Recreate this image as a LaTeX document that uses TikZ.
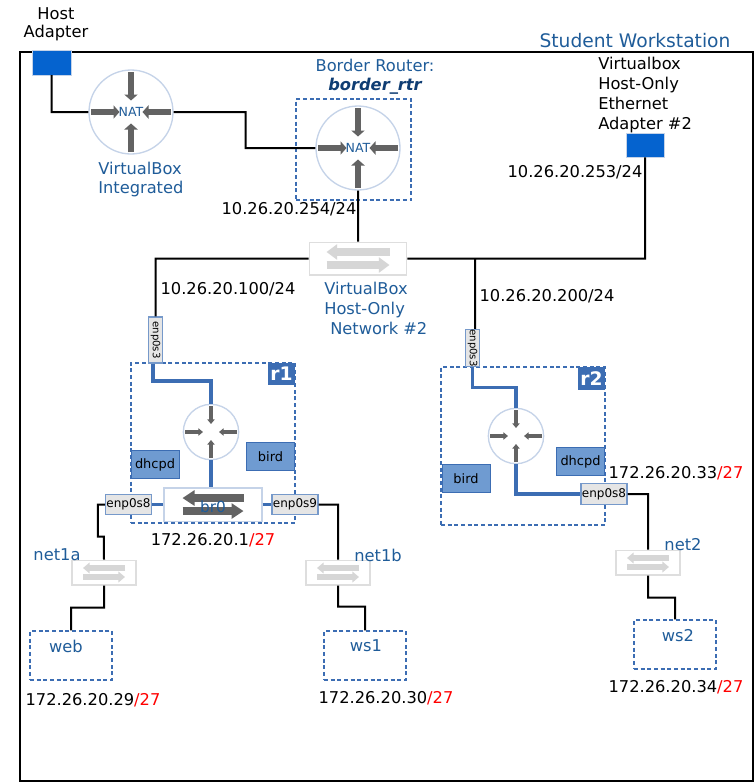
\documentclass[tikz,border=0pt]{standalone}
\usepackage{fontspec}
\setmainfont{DejaVu Sans}
\usetikzlibrary{arrows.meta,calc}

\definecolor{wsblue}{HTML}{1F5C99}
\definecolor{rtrblue}{HTML}{0F3D73}
\definecolor{dashblue}{HTML}{3C6DB3}
\definecolor{adblue}{HTML}{0563CF}
\definecolor{svcblue}{HTML}{6F9BD1}
\definecolor{ringblue}{HTML}{C5D3E8}
\definecolor{arrowgrey}{HTML}{636363}
\definecolor{swgrey}{HTML}{D6D6D6}

\tikzset{
    lbl/.style={font=\fontsize{12.2}{19.5}\selectfont,inner sep=0pt,align=left},
    bluelbl/.style={lbl,text=wsblue},
    wire/.style={draw=black,line width=1.5pt},
    brwire/.style={draw=dashblue,line width=2.5pt},
    adapter/.style={fill=adblue,draw=ringblue,line width=.4pt,inner sep=0pt},
    dashbox/.style={draw=dashblue,line width=1.3pt,dash pattern=on 3pt off 2pt,inner sep=0pt},
    svcbox/.style={fill=svcblue,draw=dashblue,line width=.7pt,inner sep=0pt,minimum width=36pt,minimum height=21.5pt,font=\fontsize{9.7}{11}\selectfont},
    ifbox/.style={fill=black!10,draw=dashblue!70,line width=.8pt,inner sep=0pt,minimum width=34.5pt,minimum height=15.5pt,font=\fontsize{9}{11}\selectfont},
    ifvert/.style={ifbox,rotate=-90,minimum height=10.5pt,font=\fontsize{7.6}{9}\selectfont},
    tagbox/.style={fill=dashblue,text=white,inner sep=0pt,minimum width=20pt,minimum height=17pt,font=\bfseries\fontsize{14}{16}\selectfont},
    router/.style={circle,draw=ringblue,fill=white,line width=1pt,inner sep=0pt,text=wsblue},
    swbox/.style={rectangle,draw=black!13,fill=white,line width=1pt,inner sep=0pt},
}

% four arrows pointing into a router
\newcommand{\routerarrows}[5]{
    \foreach \a in {0,90,180,270}
        \draw[arrowgrey,line width=#4,-{Triangle[length=#5,width=1.9*#4]}]
            ($(#1)+(\a:#2)$) -- ($(#1)+(\a:#3)$);
}
% pair of opposite arrows in a switch
\newcommand{\switcharrows}[6]{
    \draw[#6,line width=#4,-{Triangle[length=#5,width=2*#4]}]
        ($(#1)+(#2,-#3)$) -- ($(#1)+(-#2,-#3)$);
    \draw[#6,line width=#4,-{Triangle[length=#5,width=2*#4]}]
        ($(#1)+(-#2,#3)$) -- ($(#1)+(#2,#3)$);
}
\newcommand{\ipmask}[2]{#1\textcolor{red}{/#2}}

\begin{document}
\begin{tikzpicture}[x=.75pt,y=-.75pt]
    \useasboundingbox (0,0) rectangle (756,783);

    \node (workstation) at (386.5,416.5) [draw=black,line width=1.5pt,inner sep=0pt,minimum width=549.5pt,minimum height=546.5pt]{};
    \node (wstitle) at (635,41) [lbl,text=wsblue,font=\fontsize{14}{16}\selectfont]{Student Workstation};

    % dashed boxes
    \node (brbox) at (353.5,149.5) [dashbox,minimum width=86pt,minimum height=76pt]{};
    \node (r1box) at (213,443) [dashbox,minimum width=123pt,minimum height=120pt]{};
    \node (r2box) at (523,446) [dashbox,minimum width=123pt,minimum height=118.5pt]{};
    \node (webbox) at (71,655.5) [dashbox,minimum width=61.5pt,minimum height=36.5pt]{};
    \node (ws1box) at (365,655.5) [dashbox,minimum width=61.5pt,minimum height=36.5pt]{};
    \node (ws2box) at (675,644.5) [dashbox,minimum width=61.5pt,minimum height=36.5pt]{};

    % adapters
    \node (hostad) at (51.5,62.5) [adapter,minimum width=29pt,minimum height=18.5pt]{};
    \node (ad2) at (645,145) [adapter,minimum width=28.5pt,minimum height=18pt]{};

    % routers
    \node (natvbox) at (131,112) [router,minimum size=63pt,font=\fontsize{9.4}{11}\selectfont]{NAT};
    \node (natbr) at (358,148) [router,minimum size=63pt,font=\fontsize{9.4}{11}\selectfont]{NAT};
    \node (r1rtr) at (211,432) [router,minimum size=41.5pt]{};
    \node (r2rtr) at (516,436) [router,minimum size=41.5pt]{};

    % switches
    \node (swmain) at (358,258.5) [swbox,minimum width=73pt,minimum height=24.5pt]{};
    \node (net1a) at (104,572.5) [swbox,minimum width=48pt,minimum height=18.5pt]{};
    \node (net1b) at (338,572.5) [swbox,minimum width=48pt,minimum height=18.5pt]{};
    \node (net2) at (648,562.5) [swbox,minimum width=48pt,minimum height=18.5pt]{};
    \node (br0) at (213,504.5) [swbox,draw=ringblue,minimum width=73.5pt,minimum height=25pt]{};

    % interfaces
    \node (r1e3) at (155.5,340) [ifvert]{enp0s3};
    \node (r2e3) at (472.5,348) [ifvert,minimum width=28pt]{enp0s3};
    \node (r1e8) at (128.5,504.5) [ifbox]{enp0s8};
    \node (r1e9) at (295,504.5) [ifbox]{enp0s9};
    \node (r2e8) at (604,494) [ifbox]{enp0s8};

    % services
    \node (r1dhcpd) at (155,464.5) [svcbox]{dhcpd};
    \node (r1bird) at (270.5,456.5) [svcbox]{bird};
    \node (r2bird) at (466,478.5) [svcbox]{bird};
    \node (r2dhcpd) at (580.5,461.5) [svcbox]{dhcpd};
    \node (r1tag) at (281.5,374) [tagbox]{r1};
    \node (r2tag) at (591.5,378.5) [tagbox]{r2};

    \coordinate (tap) at (475,259);

    % black links
    \path[wire]
        (hostad.south) |- (natvbox.west)
        (natvbox.east) -- ++(72,0) |- (natbr.west)
        (natbr.south) -- (swmain.north)
        (swmain.west) -| (r1e3.west)
        (swmain.east) -| (ad2.south)
        (tap) -- (tap |- r2e3.west)
        (r1e8.west) -- ++(-7,0) -- ++(0,32) -- ++(6,0) -- (net1a.north)
        (net1a.south) -- ++(0,22) -| (webbox.north)
        (r1e9.east) -| (net1b.north)
        (net1b.south) -- ++(0,21) -| (ws1box.north)
        (r2e8.east) -| (net2.north)
        (net2.south) -- ++(0,22) -| (ws2box.north)
    ;

    % blue links
    \path[brwire]
        (r1e3.east -| 153,0) -- (153,381) -| (r1rtr.north)
        (r1rtr.south) -- (r1rtr |- br0.north)
        (r1e8.east) -- (br0.west)
        (br0.east) -- (r1e9.west)
        (r2e3.east) -- ++(0,20) -| (r2rtr.north)
        (r2rtr.south) |- (r2e8.west)
    ;

    % icons
    \routerarrows{natvbox}{40}{11.5}{5.2pt}{4.5pt}
    \routerarrows{natbr}{40}{11.5}{5.2pt}{4.5pt}
    \routerarrows{r1rtr}{26}{8}{2.9pt}{3.5pt}
    \routerarrows{r2rtr}{26}{8}{2.9pt}{3.5pt}
    \switcharrows{swmain}{31.5}{6.5}{5.6pt}{8pt}{swgrey}
    \switcharrows{net1a}{21}{4.5}{4pt}{5pt}{swgrey}
    \switcharrows{net1b}{21}{4.5}{4pt}{5pt}{swgrey}
    \switcharrows{net2}{21}{4.5}{4pt}{5pt}{swgrey}
    \switcharrows{br0}{30.5}{6.5}{5.6pt}{9pt}{arrowgrey}

    % labels
    \node (hostlbl) at (56,24) [lbl,align=center,font=\fontsize{12.2}{13.5}\selectfont]{Host\\Adapter};
    \node (ad2lbl) at (598,95) [lbl,anchor=west,font=\fontsize{12.2}{15.2}\selectfont]{Virtualbox\\Host-Only\\Ethernet\\Adapter \#2};
    \node (brlbl) at (375,65) [bluelbl]{Border Router:};
    \node (brname) at (375,86) [bluelbl,text=rtrblue,font=\bfseries\itshape\fontsize{12.2}{14}\selectfont]{border\_rtr};
    \node (vboxlbl) at (98,179.5) [bluelbl,anchor=west,font=\fontsize{12.2}{14.5}\selectfont]{VirtualBox\\Integrated};
    \node (hostonly) at (324,308) [bluelbl,anchor=west,font=\fontsize{12.2}{15}\selectfont]{VirtualBox\\Host-Only\\\hspace*{4.5pt}Network \#2};
    \node (br0lbl) at (213,507) [bluelbl,font=\fontsize{11.5}{14}\selectfont]{br0};
    \node (net1alb) at (57,555) [bluelbl]{net1a};
    \node (net1blb) at (378,555) [bluelbl]{net1b};
    \node (net2lb) at (683,545) [bluelbl]{net2};
    \node (weblb) at (66,646) [bluelbl]{web};
    \node (ws1lb) at (366,646) [bluelbl]{ws1};
    \node (ws2lb) at (678,636) [bluelbl]{ws2};

    \node (ipbr) at (289,209) [lbl]{10.26.20.254/24};
    \node (ipad) at (575,172) [lbl]{10.26.20.253/24};
    \node (ipr1u) at (228,289) [lbl]{10.26.20.100/24};
    \node (ipr2u) at (547,296) [lbl]{10.26.20.200/24};
    \node (ipr1) at (213,540) [lbl]{\ipmask{172.26.20.1}{27}};
    \node (ipr2) at (676,473) [lbl]{\ipmask{172.26.20.33}{27}};
    \node (ipweb) at (93,700) [lbl]{\ipmask{172.26.20.29}{27}};
    \node (ipws1) at (386,698) [lbl]{\ipmask{172.26.20.30}{27}};
    \node (ipws2) at (676,687) [lbl]{\ipmask{172.26.20.34}{27}};
\end{tikzpicture}
\end{document}
